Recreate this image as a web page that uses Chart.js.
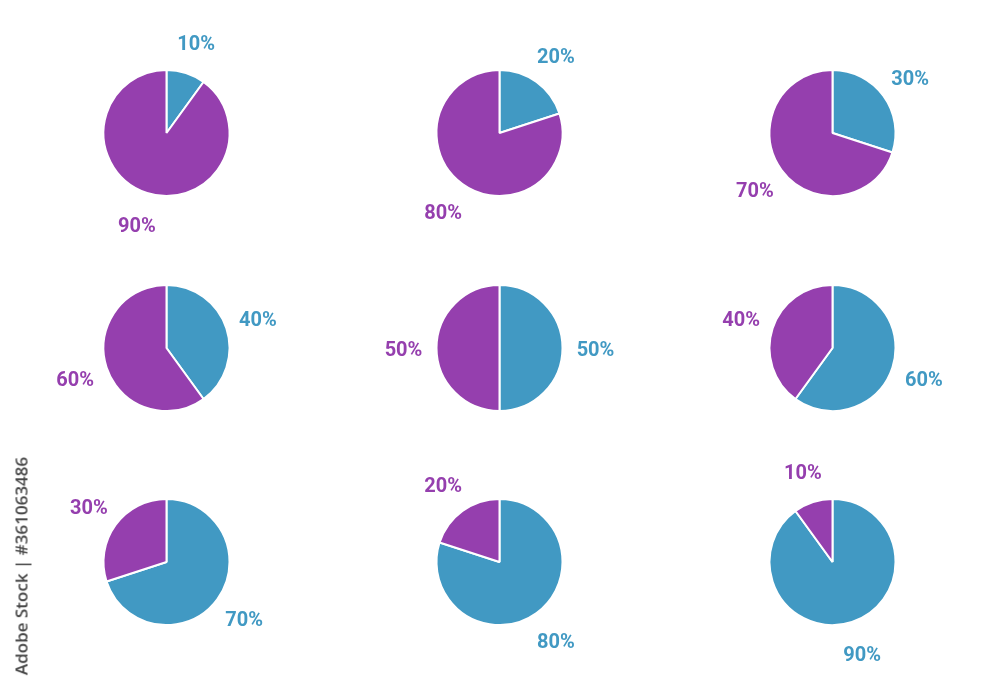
<!DOCTYPE html>
<html>
<head>
<meta charset="utf-8">
<script src="https://cdn.jsdelivr.net/npm/chart.js@4"></script>
<style>
body{margin:0;background:#fff;width:1000px;height:693px;overflow:hidden;position:relative;font-family:Roboto,sans-serif}
.cell{position:absolute;width:333px;height:214px}
#stamp{position:absolute;left:21px;top:566px;transform:translate(-50%,-50%) rotate(-90deg);white-space:nowrap;font-family:"Open Sans",sans-serif;font-size:17px;font-weight:600;color:#444}
</style>
</head>
<body>
<div id="grid"></div>
<div id="stamp">Adobe Stock | #361063486</div>
<script>
// share of each pie, blue slice first (clockwise from top), purple second
var blueVals=[10,20,30,40,50,60,70,80,90];
var purpleVals=[90,80,70,60,50,40,30,20,10];
var sliceNames=['blue','purple'];
var colBlue='#4199c3';
var colPurple='#953fae';

var pctLabels={
	id:'pctLabels',
	afterDatasetsDraw:function(chart){
		var ctx=chart.ctx;
		var meta=chart.getDatasetMeta(0);
		var ds=chart.data.datasets[0];
		ctx.save();
		ctx.font='bold 20px Roboto';
		ctx.textAlign='center';
		ctx.textBaseline='middle';
		meta.data.forEach(function(arc,i){
			var p=arc.getProps(['x','y','startAngle','endAngle','outerRadius']);
			var mid=(p.startAngle+p.endAngle)/2;
			var d=p.outerRadius+33;
			ctx.fillStyle=ds.backgroundColor[i];
			ctx.fillText(ds.data[i]+'%',p.x+Math.cos(mid)*d,p.y+Math.sin(mid)*d+3);
		});
		ctx.restore();
	}
};

var grid=document.getElementById('grid');
for(var k=0;k<9;k++)
{
	var row=Math.floor(k/3),col=k%3;
	var div=document.createElement('div');
	div.className='cell';
	div.style.left=(col*333)+'px';
	div.style.top=(26+row*214.5)+'px';
	div.innerHTML="<canvas id='pie"+k+"' width='333' height='214'></canvas>";
	grid.appendChild(div);
	var ctx=document.getElementById('pie'+k).getContext('2d');
	new Chart(ctx,{
		type:'pie',
		data:{
			labels:sliceNames,
			datasets:[{
				data:[blueVals[k],purpleVals[k]],
				backgroundColor:[colBlue,colPurple],
				borderColor:'#ffffff',
				borderWidth:2
			}]
		},
		options:{
			responsive:false,
			animation:false,
			radius:63,
			layout:{padding:0},
			plugins:{legend:{display:false},tooltip:{enabled:false}}
		},
		plugins:[pctLabels]
	});
}
</script>
</body>
</html>
